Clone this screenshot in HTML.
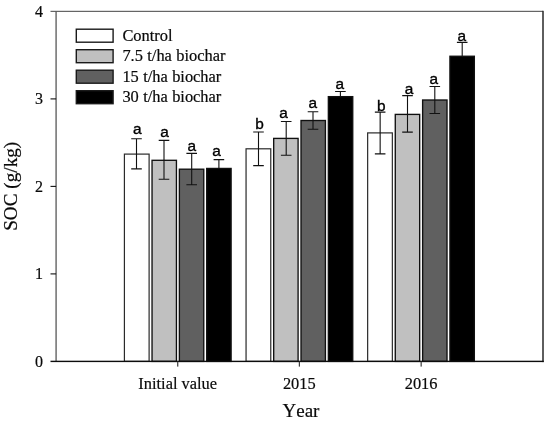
<!DOCTYPE html>
<html lang="en"><head><meta charset="utf-8"><title>SOC chart</title>
<style>
html,body{margin:0;padding:0;background:#fff;}
svg{display:block;filter:blur(0.3px);}
.s{font-family:"Liberation Serif","Times New Roman",serif;fill:#0a0a0a;stroke:#0a0a0a;stroke-width:0.2px;font-kerning:none;}
.a{font-family:"Liberation Sans",Arial,sans-serif;fill:#000;font-size:15.4px;stroke:#000;stroke-width:0.35px;}
</style></head><body>
<svg width="550" height="424" viewBox="0 0 550 424">
<rect width="550" height="424" fill="#fff"/>
<rect x="124.41" y="154.10" width="24.70" height="207.30" fill="#ffffff" stroke="#2a2a2a" stroke-width="1.2"/>
<rect x="152.04" y="160.30" width="24.40" height="201.10" fill="#c0c0c0" stroke="#101010" stroke-width="1.35"/>
<rect x="179.37" y="169.20" width="24.40" height="192.20" fill="#606060" stroke="#101010" stroke-width="1.35"/>
<rect x="206.70" y="168.45" width="24.40" height="192.95" fill="#000000" stroke="#101010" stroke-width="1.35"/>
<rect x="246.06" y="148.80" width="24.70" height="212.60" fill="#ffffff" stroke="#2a2a2a" stroke-width="1.2"/>
<rect x="273.69" y="138.40" width="24.40" height="223.00" fill="#c0c0c0" stroke="#101010" stroke-width="1.35"/>
<rect x="301.02" y="120.50" width="24.40" height="240.90" fill="#606060" stroke="#101010" stroke-width="1.35"/>
<rect x="328.35" y="96.65" width="24.40" height="264.75" fill="#000000" stroke="#101010" stroke-width="1.35"/>
<rect x="367.65" y="132.90" width="24.70" height="228.50" fill="#ffffff" stroke="#2a2a2a" stroke-width="1.2"/>
<rect x="395.28" y="114.40" width="24.40" height="247.00" fill="#c0c0c0" stroke="#101010" stroke-width="1.35"/>
<rect x="422.62" y="100.00" width="24.40" height="261.40" fill="#606060" stroke="#101010" stroke-width="1.35"/>
<rect x="449.94" y="56.25" width="24.40" height="305.15" fill="#000000" stroke="#101010" stroke-width="1.35"/>
<path d="M136.50 138.80V168.90M131.20 138.80h10.6M131.20 168.90h10.6" stroke="#111" stroke-width="1.1" fill="none"/>
<path d="M164.00 140.40V179.20M158.70 140.40h10.6M158.70 179.20h10.6" stroke="#111" stroke-width="1.1" fill="none"/>
<path d="M191.70 153.40V184.80M186.40 153.40h10.6M186.40 184.80h10.6" stroke="#111" stroke-width="1.1" fill="none"/>
<path d="M218.90 159.60V168.45M213.60 159.60h10.6" stroke="#111" stroke-width="1.1" fill="none"/>
<path d="M258.50 131.95V165.60M253.20 131.95h10.6M253.20 165.60h10.6" stroke="#111" stroke-width="1.1" fill="none"/>
<path d="M286.20 121.50V155.30M280.90 121.50h10.6M280.90 155.30h10.6" stroke="#111" stroke-width="1.1" fill="none"/>
<path d="M313.00 111.80V129.20M307.70 111.80h10.6M307.70 129.20h10.6" stroke="#111" stroke-width="1.1" fill="none"/>
<path d="M340.40 91.50V96.65M335.10 91.50h10.6" stroke="#111" stroke-width="1.1" fill="none"/>
<path d="M380.15 112.10V153.90M374.85 112.10h10.6M374.85 153.90h10.6" stroke="#111" stroke-width="1.1" fill="none"/>
<path d="M407.50 95.60V132.10M402.20 95.60h10.6M402.20 132.10h10.6" stroke="#111" stroke-width="1.1" fill="none"/>
<path d="M434.80 86.50V113.50M429.50 86.50h10.6M429.50 113.50h10.6" stroke="#111" stroke-width="1.1" fill="none"/>
<path d="M462.20 42.40V56.25M456.90 42.40h10.6" stroke="#111" stroke-width="1.1" fill="none"/>
<text class="a" x="137.2" y="134.4" text-anchor="middle">a</text>
<text class="a" x="164.5" y="137.4" text-anchor="middle">a</text>
<text class="a" x="191.9" y="150.5" text-anchor="middle">a</text>
<text class="a" x="216.6" y="156.0" text-anchor="middle">a</text>
<text class="a" x="259.5" y="128.8" text-anchor="middle">b</text>
<text class="a" x="283.6" y="117.6" text-anchor="middle">a</text>
<text class="a" x="312.7" y="108.1" text-anchor="middle">a</text>
<text class="a" x="339.9" y="89.0" text-anchor="middle">a</text>
<text class="a" x="381.2" y="110.8" text-anchor="middle">b</text>
<text class="a" x="409.0" y="93.7" text-anchor="middle">a</text>
<text class="a" x="433.8" y="83.9" text-anchor="middle">a</text>
<text class="a" x="461.8" y="41.0" text-anchor="middle">a</text>
<rect x="55.30" y="11.35" width="1.6" height="350.05" fill="#777"/>
<rect x="50.50" y="10.80" width="492.50" height="1.1" fill="#555"/>
<rect x="542.25" y="10.80" width="1.5" height="351.30" fill="#2a2a2a"/>
<rect x="50.50" y="360.70" width="493.25" height="1.4" fill="#0c0c0c"/>
<text class="s" font-size="16" x="42.9" y="366.7" text-anchor="end">0</text>
<rect x="50.5" y="273.35" width="5.6" height="1.1" fill="#111"/>
<text class="s" font-size="16" x="42.9" y="279.2" text-anchor="end">1</text>
<rect x="50.5" y="185.85" width="5.6" height="1.1" fill="#111"/>
<text class="s" font-size="16" x="42.9" y="191.7" text-anchor="end">2</text>
<rect x="50.5" y="98.35" width="5.6" height="1.1" fill="#111"/>
<text class="s" font-size="16" x="42.9" y="104.2" text-anchor="end">3</text>
<text class="s" font-size="16" x="42.9" y="16.7" text-anchor="end">4</text>
<rect x="177.20" y="361.40" width="1.1" height="5.2" fill="#2a2a2a"/>
<text class="s" font-size="16.4"  x="177.7" y="389.3" text-anchor="middle">Initial value</text>
<rect x="298.80" y="361.40" width="1.1" height="5.2" fill="#2a2a2a"/>
<text class="s" font-size="16.4"  x="299.3" y="389.3" text-anchor="middle">2015</text>
<rect x="420.60" y="361.40" width="1.1" height="5.2" fill="#2a2a2a"/>
<text class="s" font-size="16.4"  x="421.1" y="389.3" text-anchor="middle">2016</text>
<text class="s" font-size="19" x="301" y="416.7" text-anchor="middle">Year</text>
<text class="s" font-size="19.2" transform="translate(17.3 186.3) rotate(-90)" text-anchor="middle">SOC (g/kg)</text>
<rect x="76.3" y="29.2" width="36.8" height="13" fill="#ffffff" stroke="#1a1a1a" stroke-width="1.4"/>
<text class="s" font-size="16.4" x="122.4" y="40.9" word-spacing="0.3">Control</text>
<rect x="76.3" y="49.7" width="36.8" height="13" fill="#c0c0c0" stroke="#1a1a1a" stroke-width="1.4"/>
<text class="s" font-size="16.4" x="122.4" y="61.4" word-spacing="0.3">7.5 t/ha biochar</text>
<rect x="76.3" y="70.2" width="36.8" height="13" fill="#606060" stroke="#1a1a1a" stroke-width="1.4"/>
<text class="s" font-size="16.4" x="122.4" y="81.9" word-spacing="0.3">15 t/ha biochar</text>
<rect x="76.3" y="90.7" width="36.8" height="13" fill="#000000" stroke="#1a1a1a" stroke-width="1.4"/>
<text class="s" font-size="16.4" x="122.4" y="102.4" word-spacing="0.3">30 t/ha biochar</text>
</svg>
</body></html>
